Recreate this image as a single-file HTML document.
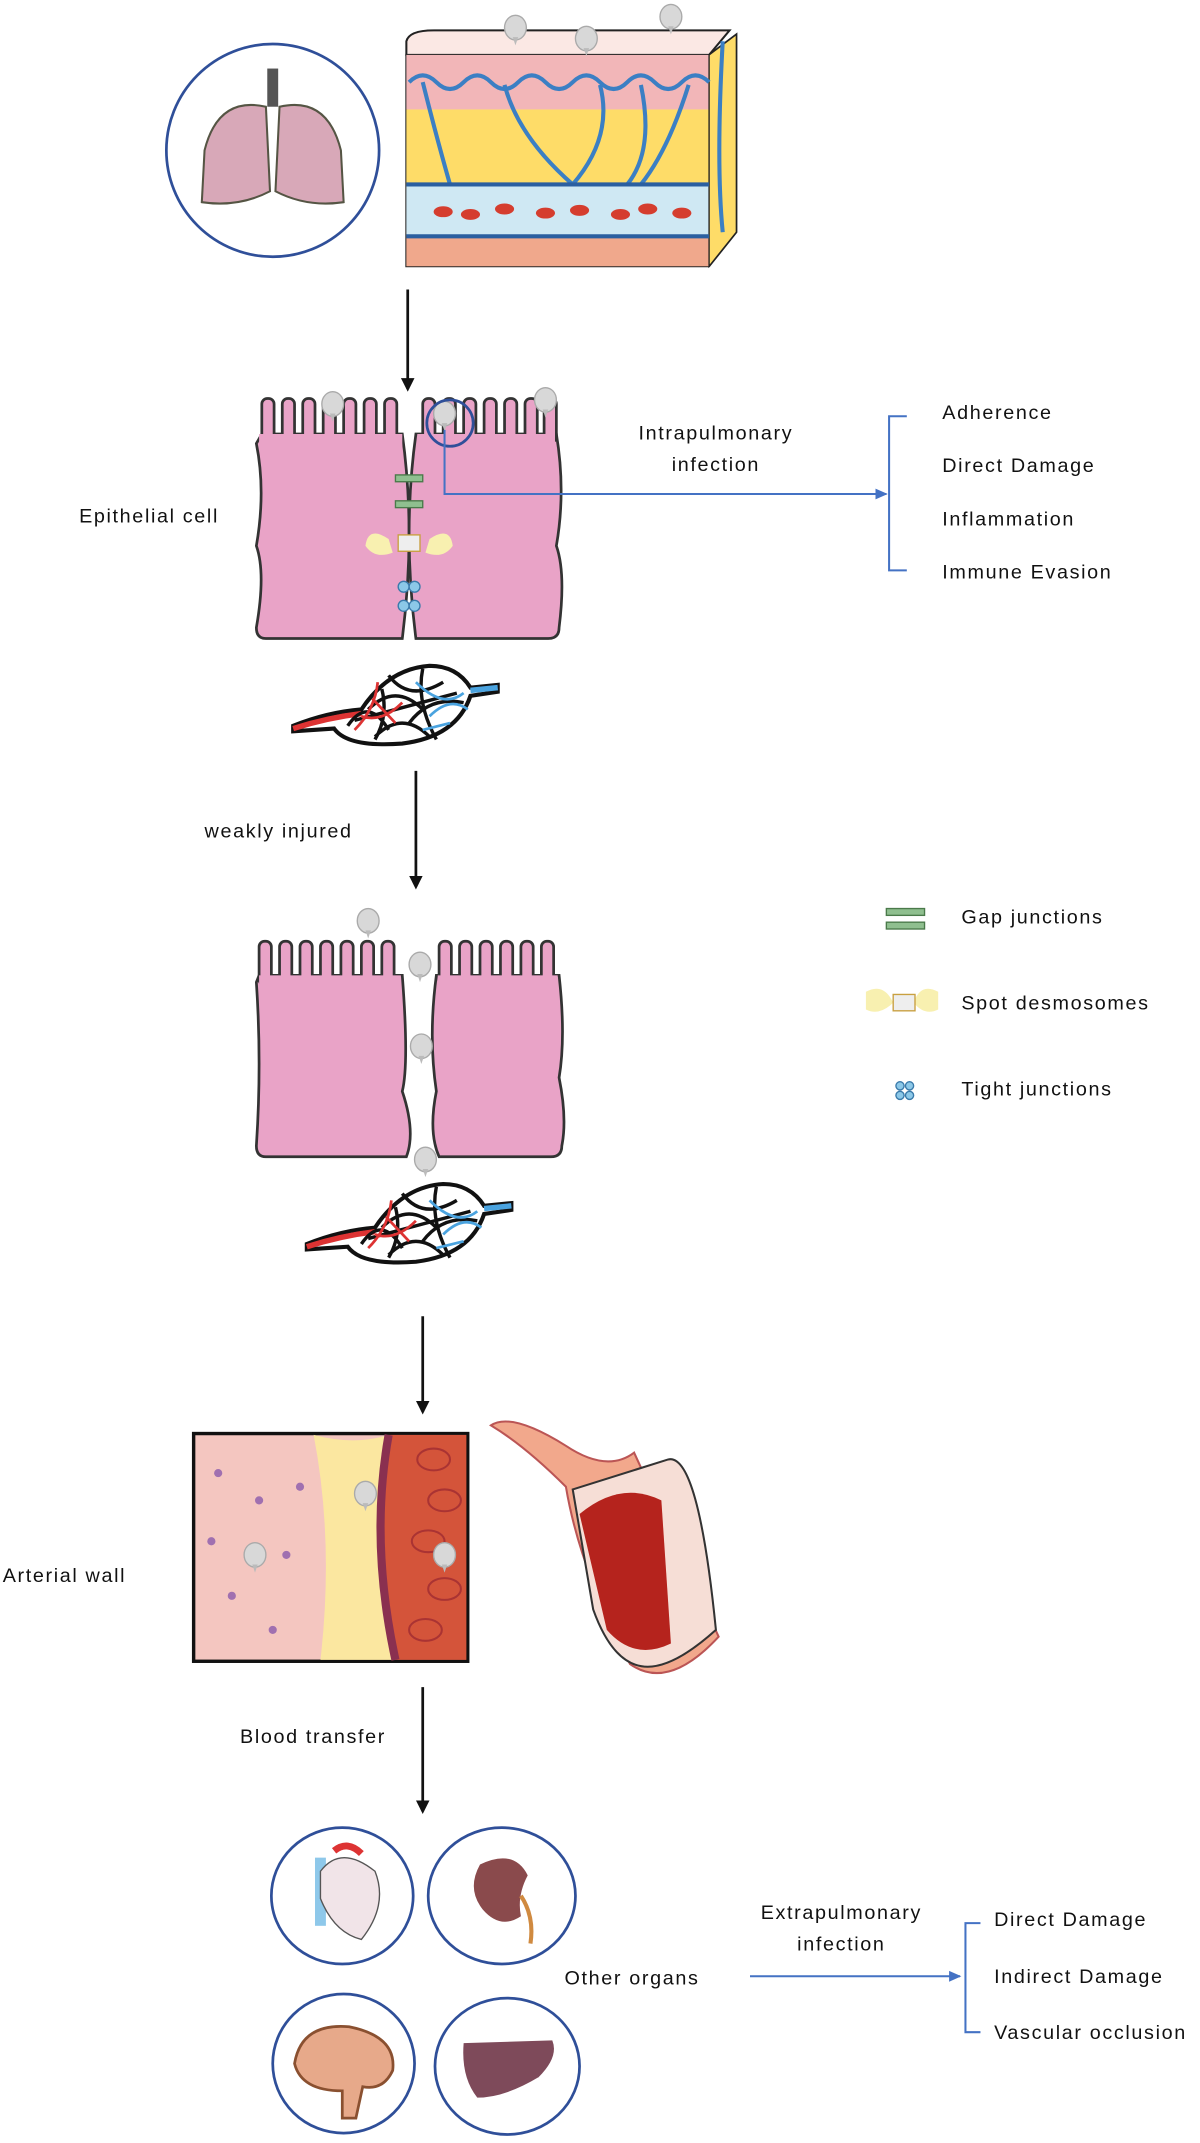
<!DOCTYPE html>
<html><head><meta charset="utf-8"><style>
html,body{margin:0;padding:0;background:#fff}
svg{display:block}
text{font-family:"Liberation Sans",sans-serif;font-size:14.5px;fill:#111;letter-spacing:1.2px}
</style></head><body>
<svg width="1200" height="2143" viewBox="0 0 880 1571" xmlns="http://www.w3.org/2000/svg">
<defs>
<marker id="ah" markerWidth="10" markerHeight="10" refX="8" refY="5" orient="auto" markerUnits="userSpaceOnUse"><path d="M0,0 L10,5 L0,10 z" fill="#111"/></marker>
<marker id="ab" markerWidth="10" markerHeight="10" refX="8" refY="5" orient="auto" markerUnits="userSpaceOnUse"><path d="M0,1 L9,5 L0,9 z" fill="#4472c4"/></marker>
<g id="drop"><ellipse cx="0" cy="0" rx="8" ry="9" fill="#d8d8d8" stroke="#aaa" stroke-width="1"/><path d="M-2,7 L0,13 L2,7z" fill="#bbb"/></g>
<g id="cap">
 <path d="M0,42 Q25,32 50,30 Q70,0 100,-2 Q120,-2 130,14 L150,12 L150,17 L130,20 Q120,50 80,55 Q40,58 30,44 L0,46z" fill="#fff" stroke="#111" stroke-width="3"/>
 <path d="M0,44 Q25,36 50,33" stroke="#d33" stroke-width="4" fill="none"/>
 <path d="M130,16 L150,14" stroke="#4aa3df" stroke-width="4" fill="none"/>
 <path d="M40,42 Q55,20 70,45 M55,30 Q75,10 95,30 M60,50 Q80,30 100,50 M70,5 Q85,25 110,10 M85,40 Q100,20 125,25 M45,38 L120,18 M65,15 Q70,35 60,52 M95,0 Q90,25 105,52" stroke="#111" stroke-width="2.5" fill="none"/>
 <path d="M45,45 Q60,30 62,10 M50,35 Q65,40 80,25 M58,22 L75,40" stroke="#d33" stroke-width="2" fill="none"/>
 <path d="M90,10 Q110,30 125,18 M100,35 Q115,20 128,30 M95,45 L115,40" stroke="#4aa3df" stroke-width="2" fill="none"/>
</g>
</defs>

<circle cx="200" cy="110" r="78" fill="#fff" stroke="#2f4f99" stroke-width="2"/>
<rect x="196" y="50" width="8" height="28" fill="#555"/>
<path d="M195,78 Q160,70 150,110 L148,148 Q175,152 198,140z" fill="#d8a8b8" stroke="#554" stroke-width="1.5"/>
<path d="M205,78 Q240,70 250,110 L252,148 Q225,152 202,140z" fill="#d8a8b8" stroke="#554" stroke-width="1.5"/>

<path d="M298,40 L520,40 L540,25 L540,170 L520,195 L298,195z" fill="#f8ded6" stroke="#222" stroke-width="1.5"/>
<path d="M298,30 Q300,22 318,22 L535,22 L520,40 L298,40z" fill="#fbe8e4" stroke="#222" stroke-width="1.5"/>
<rect x="298" y="40" width="222" height="40" fill="#f2b6b8"/>
<rect x="298" y="80" width="222" height="55" fill="#fedc68"/>
<rect x="298" y="135" width="222" height="38" fill="#cfe8f3"/>
<rect x="298" y="173" width="222" height="22" fill="#f0a88c"/>
<path d="M520,40 L540,25 L540,170 L520,195z" fill="#fedc68" stroke="#222"/>
<path d="M300,60 Q310,50 320,60 T340,60 T360,60 T380,60 T400,60 T420,60 T440,60 T460,60 T480,60 T500,60 T520,60" stroke="#3b7fc4" stroke-width="3" fill="none"/>
<path d="M310,60 Q320,100 330,135 M370,62 Q380,100 420,135 M440,62 Q450,100 420,135 M470,62 Q480,110 460,135 M505,62 Q490,110 470,135 M530,30 Q525,120 530,170" stroke="#3b7fc4" stroke-width="3" fill="none"/>
<path d="M298,135 L520,135 M298,173 L520,173" stroke="#2b5fa0" stroke-width="3"/>
<g fill="#d53d2e"><ellipse cx="325" cy="155" rx="7" ry="4"/><ellipse cx="345" cy="157" rx="7" ry="4"/><ellipse cx="370" cy="153" rx="7" ry="4"/><ellipse cx="400" cy="156" rx="7" ry="4"/><ellipse cx="425" cy="154" rx="7" ry="4"/><ellipse cx="455" cy="157" rx="7" ry="4"/><ellipse cx="475" cy="153" rx="7" ry="4"/><ellipse cx="500" cy="156" rx="7" ry="4"/></g>
<use href="#drop" x="378" y="20"/><use href="#drop" x="430" y="28"/><use href="#drop" x="492" y="12"/>

<line x1="299" y1="212" x2="299" y2="285" stroke="#111" stroke-width="2" marker-end="url(#ah)"/>

<g stroke="#333" stroke-width="2" fill="#e9a3c7">
<path d="M192,318 L295,318 Q305,390 295,468 L195,468 Q188,468 188,460 Q195,420 188,400 Q195,360 188,325z"/>
<path d="M305,318 L408,318 Q415,360 408,400 Q415,420 410,460 Q410,468 402,468 L305,468 Q295,390 305,318z"/>
<rect x="192" y="292" width="9" height="32" rx="4"/><rect x="207" y="292" width="9" height="32" rx="4"/><rect x="222" y="292" width="9" height="32" rx="4"/><rect x="237" y="292" width="9" height="32" rx="4"/><rect x="252" y="292" width="9" height="32" rx="4"/><rect x="267" y="292" width="9" height="32" rx="4"/><rect x="282" y="292" width="9" height="32" rx="4"/>
<rect x="310" y="292" width="9" height="32" rx="4"/><rect x="325" y="292" width="9" height="32" rx="4"/><rect x="340" y="292" width="9" height="32" rx="4"/><rect x="355" y="292" width="9" height="32" rx="4"/><rect x="370" y="292" width="9" height="32" rx="4"/><rect x="385" y="292" width="9" height="32" rx="4"/><rect x="399" y="292" width="9" height="32" rx="4"/>
</g>
<rect x="190" y="318" width="105" height="10" fill="#e9a3c7"/><rect x="306" y="318" width="101" height="10" fill="#e9a3c7"/>
<path d="M285,395 Q270,385 268,400 Q275,410 288,405" fill="#f8f0b0"/><path d="M315,395 Q330,385 332,400 Q325,410 312,405" fill="#f8f0b0"/>
<g fill="#8fbf8f" stroke="#4a7a4a"><rect x="290" y="348" width="20" height="5"/><rect x="290" y="367" width="20" height="5"/></g>
<rect x="292" y="392" width="16" height="12" fill="#eee" stroke="#c9a040"/>
<g fill="#8cc8e8" stroke="#3a7aaa"><circle cx="296" cy="430" r="4"/><circle cx="304" cy="430" r="4"/><circle cx="296" cy="444" r="4"/><circle cx="304" cy="444" r="4"/></g>
<use href="#drop" x="244" y="296"/><use href="#drop" x="400" y="293"/><use href="#drop" x="326" y="303"/>
<circle cx="330" cy="310" r="17" fill="none" stroke="#2f4f99" stroke-width="2"/>
<path d="M326,315 L326,362 L650,362" stroke="#4472c4" stroke-width="1.5" fill="none" marker-end="url(#ab)"/>
<text x="525" y="322" text-anchor="middle">Intrapulmonary</text><text x="525" y="345" text-anchor="middle">infection</text>
<path d="M665,305 L652,305 L652,418 L665,418" stroke="#4472c4" stroke-width="1.5" fill="none"/>
<text x="691" y="307">Adherence</text><text x="691" y="346">Direct Damage</text><text x="691" y="385">Inflammation</text><text x="691" y="424">Immune Evasion</text>
<text x="58" y="383">Epithelial cell</text>

<use href="#cap" x="215" y="490"/>

<text x="150" y="614">weakly injured</text>
<line x1="305" y1="565" x2="305" y2="650" stroke="#111" stroke-width="2" marker-end="url(#ah)"/>

<g stroke="#333" stroke-width="2" fill="#e9a3c7">
<path d="M190,715 L295,715 Q300,780 295,800 Q305,830 298,848 L195,848 Q188,848 188,840 Q192,780 188,720z"/>
<path d="M320,715 L410,715 Q415,760 410,790 Q416,820 412,840 Q412,848 404,848 L322,848 Q314,830 320,800 Q314,760 320,715z"/>
<rect x="190" y="690" width="9" height="32" rx="4"/><rect x="205" y="690" width="9" height="32" rx="4"/><rect x="220" y="690" width="9" height="32" rx="4"/><rect x="235" y="690" width="9" height="32" rx="4"/><rect x="250" y="690" width="9" height="32" rx="4"/><rect x="265" y="690" width="9" height="32" rx="4"/><rect x="280" y="690" width="9" height="32" rx="4"/>
<rect x="322" y="690" width="9" height="32" rx="4"/><rect x="337" y="690" width="9" height="32" rx="4"/><rect x="352" y="690" width="9" height="32" rx="4"/><rect x="367" y="690" width="9" height="32" rx="4"/><rect x="382" y="690" width="9" height="32" rx="4"/><rect x="397" y="690" width="9" height="32" rx="4"/>
</g>
<rect x="190" y="715" width="104" height="10" fill="#e9a3c7"/><rect x="321" y="715" width="88" height="10" fill="#e9a3c7"/>
<use href="#drop" x="270" y="675"/><use href="#drop" x="308" y="707"/><use href="#drop" x="309" y="767"/><use href="#drop" x="312" y="850"/>

<use href="#cap" x="225" y="870"/>

<line x1="310" y1="965" x2="310" y2="1035" stroke="#111" stroke-width="2" marker-end="url(#ah)"/>

<rect x="142" y="1051" width="201" height="167" fill="#f4c6c0" stroke="#111" stroke-width="2.5"/>
<path d="M230,1052 Q260,1060 285,1052 Q270,1130 290,1217 L235,1217 Q245,1130 230,1052z" fill="#fbe7a0"/>
<path d="M285,1052 Q270,1130 290,1217 L342,1217 L342,1052z" fill="#d4543a"/>
<path d="M285,1052 Q271,1130 290,1217" stroke="#8a3050" stroke-width="6" fill="none"/>
<g fill="none" stroke="#a33" stroke-width="1.5"><ellipse cx="318" cy="1070" rx="12" ry="8"/><ellipse cx="326" cy="1100" rx="12" ry="8"/><ellipse cx="314" cy="1130" rx="12" ry="8"/><ellipse cx="326" cy="1165" rx="12" ry="8"/><ellipse cx="312" cy="1195" rx="12" ry="8"/></g>
<g fill="#a070b0"><circle cx="160" cy="1080" r="3"/><circle cx="190" cy="1100" r="3"/><circle cx="210" cy="1140" r="3"/><circle cx="170" cy="1170" r="3"/><circle cx="220" cy="1090" r="3"/><circle cx="200" cy="1195" r="3"/><circle cx="155" cy="1130" r="3"/></g>
<use href="#drop" x="268" y="1095"/><use href="#drop" x="187" y="1140"/><use href="#drop" x="326" y="1140"/>
<text x="2" y="1160">Arterial wall</text>

<path d="M360,1045 Q375,1035 415,1060 Q445,1080 465,1065 L527,1200 Q490,1240 462,1220 Q425,1150 415,1090 Q385,1060 360,1045z" fill="#f2a88c" stroke="#b55" stroke-width="1.5"/>
<path d="M420,1092 L490,1070 Q512,1065 525,1195 Q495,1222 475,1222 Q450,1222 435,1180z" fill="#f6ded6" stroke="#333" stroke-width="1.5"/>
<path d="M425,1110 Q455,1085 485,1100 L492,1205 Q465,1218 445,1195z" fill="#b5231d"/>
<text x="176" y="1278">Blood transfer</text>

<line x1="310" y1="1237" x2="310" y2="1328" stroke="#111" stroke-width="2" marker-end="url(#ah)"/>

<g fill="#fff" stroke="#2f4f99" stroke-width="2">
<ellipse cx="251" cy="1390" rx="52" ry="50"/><ellipse cx="368" cy="1390" rx="54" ry="50"/>
<ellipse cx="252" cy="1513" rx="52" ry="51"/><ellipse cx="372" cy="1515" rx="53" ry="50"/>
</g>
<rect x="231" y="1362" width="8" height="50" fill="#8ec8ea"/>
<path d="M235,1372 Q250,1352 275,1372 Q285,1397 265,1422 Q245,1417 235,1392z" fill="#f1e4e8" stroke="#555"/>
<path d="M245,1357 Q255,1349 265,1359" stroke="#d33" stroke-width="5" fill="none"/>
<path d="M352,1367 Q377,1355 387,1375 Q379,1390 382,1405 Q367,1415 354,1400 Q342,1385 352,1367z" fill="#8a4a4c"/>
<path d="M382,1390 Q392,1405 389,1425" stroke="#d08a40" stroke-width="3" fill="none"/>
<path d="M216,1513 Q221,1483 256,1486 Q291,1493 288,1518 Q281,1533 266,1530 L261,1553 L251,1553 L251,1533 Q221,1533 216,1513z" fill="#e7a98a" stroke="#8a5030" stroke-width="2"/>
<path d="M340,1498 L405,1496 Q410,1508 395,1523 Q370,1538 350,1538 Q338,1523 340,1498z" fill="#7e4a5a"/>
<text x="414" y="1455">Other organs</text>
<text x="617" y="1407" text-anchor="middle">Extrapulmonary</text><text x="617" y="1430" text-anchor="middle">infection</text>
<line x1="550" y1="1449" x2="704" y2="1449" stroke="#4472c4" stroke-width="1.5" marker-end="url(#ab)"/>
<path d="M719,1410 L708,1410 L708,1490 L719,1490" stroke="#4472c4" stroke-width="1.5" fill="none"/>
<text x="729" y="1412">Direct Damage</text><text x="729" y="1454">Indirect Damage</text><text x="729" y="1495">Vascular  occlusion</text>

<g fill="#8fbf8f" stroke="#4a7a4a"><rect x="650" y="666" width="28" height="5"/><rect x="650" y="676" width="28" height="5"/></g>
<path d="M635,727 Q648,720 655,735 Q645,745 635,740z M688,727 Q675,720 670,735 Q678,745 688,740z" fill="#f8f0b0"/>
<rect x="655" y="729" width="16" height="12" fill="#eee" stroke="#c9a040"/>
<g fill="#8cc8e8" stroke="#3a7aaa"><circle cx="660" cy="796" r="3"/><circle cx="667" cy="796" r="3"/><circle cx="660" cy="803" r="3"/><circle cx="667" cy="803" r="3"/></g>
<text x="705" y="677">Gap junctions</text><text x="705" y="740">Spot desmosomes</text><text x="705" y="803">Tight junctions</text>
</svg>
</body></html>
